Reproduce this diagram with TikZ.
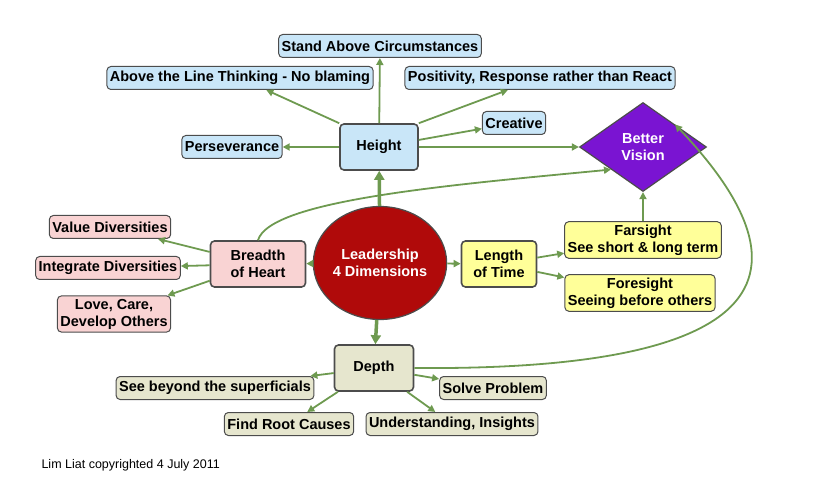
\documentclass[tikz,border=0pt]{standalone}
\usepackage{fontspec}
\setmainfont{Liberation Sans}
\usetikzlibrary{shapes.geometric,arrows.meta}
\definecolor{gr}{HTML}{6E9A50}
\definecolor{bl}{HTML}{C9E6F8}
\definecolor{pk}{HTML}{F9D3D3}
\definecolor{yl}{HTML}{FFFF99}
\definecolor{bg}{HTML}{E6E6CE}
\definecolor{pu}{HTML}{7A14D2}
\definecolor{rd}{HTML}{B00A0A}
\begin{document}
\begin{tikzpicture}[x=1pt,y=-1pt,
 box/.style={draw=black!70,rounded corners=4pt,line width=1pt,font=\bfseries\fontsize{14.5}{17}\selectfont,align=center,inner sep=3pt,minimum height=23pt},
 hub/.style={box,line width=1.6pt,minimum height=46pt},
 ar/.style={draw=gr,line width=1.8pt,-{Triangle[length=7pt,width=7pt]}},
 tar/.style={draw=gr,line width=3.5pt,-{Triangle[length=9pt,width=10pt]}}]
\useasboundingbox (0,0) rectangle (814,494);
\node[box,fill=bl] (stand) at (380,46) {Stand Above Circumstances};
\node[box,fill=bl] (above) at (240,78) {Above the Line Thinking - No blaming};
\node[box,fill=bl] (posi) at (540,78) {Positivity, Response rather than React};
\node[box,fill=bl] (crea) at (514,123) {Creative};
\node[box,fill=bl] (pers) at (232,147) {Perseverance};
\node[hub,fill=bl,minimum width=78pt] (height) at (379,147) {Height};
\node[diamond,draw=black!70,line width=1.2pt,fill=pu,text=white,font=\bfseries\fontsize{14.5}{17}\selectfont,align=center,minimum width=127pt,minimum height=89pt,inner sep=0pt] (vision) at (643,147) {Better\\Vision};
\node[ellipse,draw=black!70,line width=1.2pt,fill=rd,text=white,font=\bfseries\fontsize{14.5}{17}\selectfont,align=center,minimum width=125pt,minimum height=113pt,inner sep=0pt] (lead) at (380,263) {Leadership\\4 Dimensions};
\node[hub,fill=pk,minimum width=95pt] (breadth) at (258,264) {Breadth\\of Heart};
\node[box,fill=pk] (vd) at (110,227) {Value Diversities};
\node[box,fill=pk] (id) at (108,268) {Integrate Diversities};
\node[box,fill=pk] (love) at (114,314) {Love, Care,\\Develop Others};
\node[hub,fill=yl,minimum width=75pt] (length) at (499,264) {Length\\of Time};
\node[box,fill=yl] (far) at (643,240) {Farsight\\See short \& long term};
\node[box,fill=yl] (fore) at (640,293) {Foresight\\Seeing before others};
\node[hub,fill=bg,minimum width=79pt] (depth) at (374,368) {Depth};
\node[box,fill=bg] (sup) at (215,388) {See beyond the superficials};
\node[box,fill=bg] (solve) at (493,388) {Solve Problem};
\node[box,fill=bg] (root) at (289,424) {Find Root Causes};
\node[box,fill=bg] (und) at (452,424) {Understanding, Insights};
\node[anchor=west,font=\fontsize{12.5}{14}\selectfont] (copy) at (38,465) {Lim Liat copyrighted 4 July 2011};
\draw[ar] (height) -- (stand);
\draw[ar] (height.north west) -- (above);
\draw[ar] (height.north east) -- (posi);
\draw[ar] (height) -- (crea);
\draw[ar] (height) -- (pers);
\draw[ar] (height) -- (vision);
\draw[tar] (lead) -- (height);
\draw[tar] (lead) -- (depth);
\draw[ar] (lead) -- (breadth);
\draw[ar] (lead) -- (length);
\draw[ar] (breadth) -- (vd);
\draw[ar] (breadth) -- (id);
\draw[ar] (breadth) -- (love);
\draw[ar] (length) -- (far);
\draw[ar] (length) -- (fore);
\draw[ar] (far) -- (vision);
\draw[ar] (breadth.north) .. controls (270,200) and (450,185) .. (vision.south west);
\draw[ar] (depth.east) .. controls (650,370) and (870,330) .. (vision.north east);
\draw[ar] (depth) -- (sup);
\draw[ar] (depth) -- (solve);
\draw[ar] (depth) -- (root);
\draw[ar] (depth) -- (und);
\end{tikzpicture}
\end{document}
